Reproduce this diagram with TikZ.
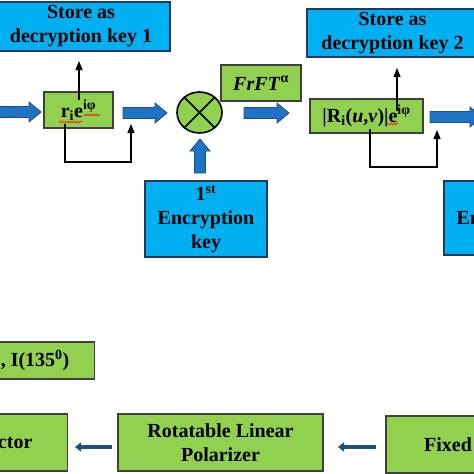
\documentclass[tikz,border=0pt]{standalone}
\usepackage{fontspec}
\setmainfont{Liberation Serif}
\usetikzlibrary{calc,shapes.geometric,arrows.meta,decorations.pathmorphing}
\definecolor{gboxc}{HTML}{92D050}
\definecolor{bboxc}{HTML}{00B0F0}
\definecolor{barr}{HTML}{1F73C6}
\definecolor{bdark}{HTML}{1F4E79}
\definecolor{navy}{HTML}{203864}
\begin{document}
\begin{tikzpicture}[x=1pt,y=-1pt,
  every node/.style={font=\fontsize{20}{24}\selectfont\bfseries, align=center, inner sep=0pt},
  gbox/.style={draw=black!75, line width=1.2pt, fill=gboxc},
  bbox/.style={draw=navy, line width=1.2pt, fill=bboxc},
  blockarrow/.style={draw=bdark, line width=0.8pt, fill=barr,
    to path={($(\tikztostart)!5.5pt!90:(\tikztotarget)$)
      -- ($(\tikztotarget)!12pt!(\tikztostart)!5.5pt!-90:(\tikztostart)$)
      -- ($(\tikztotarget)!12pt!(\tikztostart)!10pt!-90:(\tikztostart)$)
      -- (\tikztotarget)
      -- ($(\tikztotarget)!12pt!(\tikztostart)!10pt!90:(\tikztostart)$)
      -- ($(\tikztotarget)!12pt!(\tikztostart)!5.5pt!90:(\tikztostart)$)
      -- ($(\tikztostart)!5.5pt!-90:(\tikztotarget)$) -- cycle}},
  fb/.style={draw=black, line width=1.4pt, -{Triangle[width=7pt,length=9pt]}},
  thinarr/.style={draw=bdark, line width=3.5pt, -{Triangle[width=9pt,length=6pt]}},
  squig/.style={draw=red!85!orange, line width=0.7pt, decorate,
    decoration={snake, amplitude=0.8pt, segment length=3pt}}
]
\useasboundingbox (0,0) rectangle (474,474);

% top row nodes
\node[bbox, minimum width=178pt, minimum height=49pt] (store1) at (81,26.5) {Store as\\decryption key 1};
\node[gbox, minimum width=69pt, minimum height=36pt] (b1) at (78.5,110) {r\textsubscript{i}e\textsuperscript{iφ}};
\node[draw=black, line width=1.6pt, fill=gboxc, ellipse, minimum width=45pt, minimum height=41pt] (mul) at (199.5,112.5) {};
\draw[line width=1.6pt] (mul.45) -- (mul.225) (mul.135) -- (mul.315);
\node[bbox, minimum width=122pt, minimum height=76pt] (enc1) at (206,219) {1\textsuperscript{st}\\Encryption\\key};
\node[gbox, minimum width=80pt, minimum height=36pt] (frft) at (261,83) {\textit{FrFT}\textsuperscript{α}};
\node[gbox, minimum width=113pt, minimum height=34pt] (b2) at (366.5,116) {|R\textsubscript{i}(\textit{u},\textit{v})|e\textsuperscript{iφ}};
\node[bbox, minimum width=171pt, minimum height=48pt] (store2) at (392.5,33) {Store as\\decryption key 2};
\node[bbox, minimum width=122pt, minimum height=74pt] (enc2) at (505,218) {2\textsuperscript{nd}\\Encryption\\key};

% bottom row nodes
\node[gbox, minimum height=37pt, inner xsep=25pt, anchor=east] (ints) at (95,360.5)
  {I(0\textsuperscript{0}), I(45\textsuperscript{0}), I(90\textsuperscript{0}), I(135\textsuperscript{0})};
\node[gbox, minimum height=57pt, inner xsep=35pt, anchor=east] (det) at (68,442.5) {Detector};
\node[gbox, minimum width=205pt, minimum height=57pt] (rot) at (220.5,442.5) {Rotatable Linear\\Polarizer};
\node[gbox, minimum width=208pt, minimum height=57pt] (fix) at (490,444.5) {Fixed Polarizer};

% block arrows
\coordinate (a0s) at (-6,112);  \coordinate (a0e) at (41,112);
\coordinate (a1s) at (123,113); \coordinate (a1e) at (167,113);
\coordinate (a2s) at (200,173); \coordinate (a2e) at (200,139);
\coordinate (a3s) at (244,113); \coordinate (a3e) at (289,113);
\coordinate (a4s) at (430,117); \coordinate (a4e) at (482,117);
\draw[blockarrow] (a0s) to (a0e);
\draw[blockarrow] (a1s) to (a1e);
\draw[blockarrow] (a2s) to (a2e);
\draw[blockarrow] (a3s) to (a3e);
\draw[blockarrow] (a4s) to (a4e);

% black arrows
\coordinate (u1s) at (79,100);  \coordinate (u1e) at (79,61);
\coordinate (u2s) at (397,111); \coordinate (u2e) at (397,68);
\draw[fb] (u1s) -- (u1e);
\draw[fb] (u2s) -- (u2e);
\coordinate (f1s) at (65,124);  \coordinate (f1e) at (131,124);
\coordinate (f2s) at (370,129); \coordinate (f2e) at (437,130);
\draw[fb] (f1s) -- ++(0,38) -| (f1e);
\draw[fb] (f2s) -- ++(0,38) -| (f2e);

% bottom thin arrows
\coordinate (t1s) at (376,447); \coordinate (t1e) at (338,447);
\coordinate (t2s) at (112,447); \coordinate (t2e) at (75,447);
\draw[thinarr] (t1s) -- (t1e);
\draw[thinarr] (t2s) -- (t2e);

% spell-check squiggles
\draw[squig] (59,122) -- (82,122);
\draw[squig] (84,115) -- (100,115);
\draw[squig] (387,124) -- (398,124);
\end{tikzpicture}
\end{document}
